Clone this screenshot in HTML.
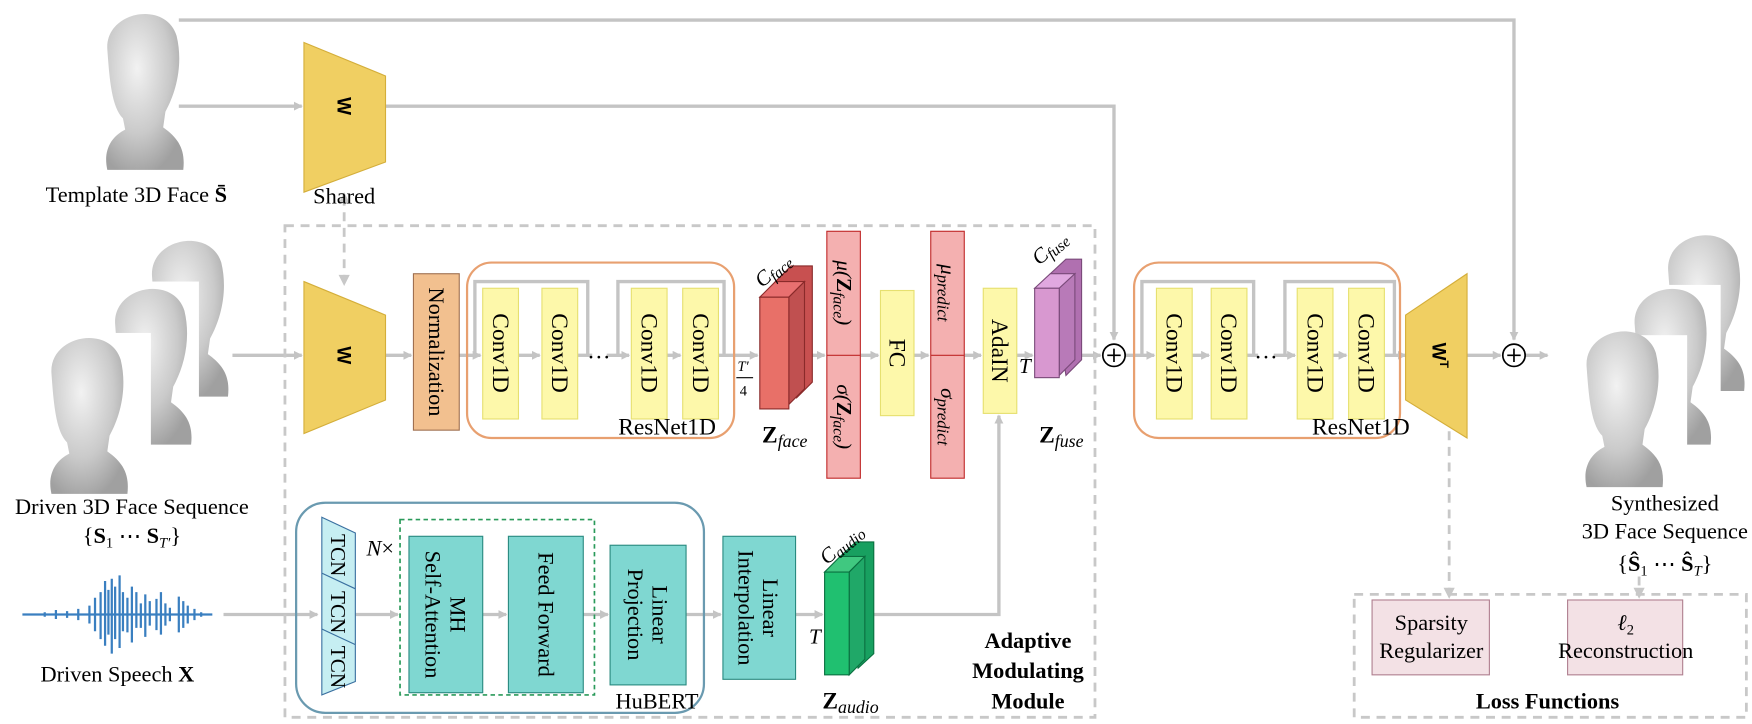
<!DOCTYPE html>
<html><head><meta charset="utf-8"><style>
html,body{margin:0;padding:0;background:#fff;}
svg{display:block;font-family:"Liberation Serif",serif;}
</style></head><body>
<svg width="1752" height="724" viewBox="0 0 1568 648" xmlns="http://www.w3.org/2000/svg" font-family="Liberation Serif, serif">
<defs>
<marker id="a" markerWidth="8" markerHeight="8" refX="7" refY="4" orient="auto" markerUnits="userSpaceOnUse"><path d="M0,0 L8,4 L0,8 z" fill="#c4c4c4"/></marker>
<radialGradient id="hg" cx="0.4" cy="0.35" r="0.7"><stop offset="0" stop-color="#f2f2f2"/><stop offset="0.6" stop-color="#cacaca"/><stop offset="1" stop-color="#a0a0a0"/></radialGradient>
<g id="head">
<path d="M18,42 C16,8 70,-2 80,30 C86,55 80,80 70,98 L68,112 C82,122 88,132 86,150 L18,150 C14,132 22,120 34,114 L32,104 C22,94 20,70 18,42 z" fill="url(#hg)"/>
</g>
</defs>
<g stroke="#c4c4c4" stroke-width="3" fill="none">
<path d="M160,18 H1355 V304" marker-end="url(#a)"/>
<path d="M160,95 H270" marker-end="url(#a)"/>
<path d="M345,95 H997 V304" marker-end="url(#a)"/>
<path d="M205,318 H270" marker-end="url(#a)"/>
<path d="M345,318 H368" marker-end="url(#a)"/>
<path d="M411,318 H430" marker-end="url(#a)"/>
<path d="M464,318 H483" marker-end="url(#a)"/>
<path d="M517,318 H530"/>
<path d="M543,318 H563" marker-end="url(#a)"/>
<path d="M597,318 H609" marker-end="url(#a)"/>
<path d="M643,318 H678" marker-end="url(#a)"/>
<path d="M720,318 H738" marker-end="url(#a)"/>
<path d="M770,318 H786" marker-end="url(#a)"/>
<path d="M818,318 H831" marker-end="url(#a)"/>
<path d="M863,318 H878" marker-end="url(#a)"/>
<path d="M910,318 H924" marker-end="url(#a)"/>
<path d="M967,318 H985" marker-end="url(#a)"/>
<path d="M1007,318 H1033" marker-end="url(#a)"/>
<path d="M1067,318 H1082" marker-end="url(#a)"/>
<path d="M1116,318 H1126"/>
<path d="M1140,318 H1159" marker-end="url(#a)"/>
<path d="M1193,318 H1205" marker-end="url(#a)"/>
<path d="M1239,318 H1258" marker-end="url(#a)"/>
<path d="M1313,318 H1343" marker-end="url(#a)"/>
<path d="M1365,318 H1385" marker-end="url(#a)"/>
<path d="M425,318 V252 H526 V318"/>
<path d="M553,318 V252 H648 V318"/>
<path d="M1022,318 V252 H1122 V318"/>
<path d="M1150,318 V252 H1248 V318"/>
<path d="M200,550 H284" marker-end="url(#a)"/>
<path d="M318,550 H356" marker-end="url(#a)"/>
<path d="M432,550 H453" marker-end="url(#a)"/>
<path d="M522,550 H544" marker-end="url(#a)"/>
<path d="M614,550 H645" marker-end="url(#a)"/>
<path d="M712,550 H736" marker-end="url(#a)"/>
<path d="M780,550 H894 V372" marker-end="url(#a)"/>
</g>
<g stroke="#c8c8c8" stroke-width="2.5" fill="none" stroke-dasharray="8,6">
<path d="M308,176 V248"/>
<path d="M1297,372 V528"/>
<path d="M1467,516 V528"/>
<rect x="255" y="202" width="725" height="440"/>
<rect x="1212" y="532" width="351" height="110"/>
</g>
<path d="M303,182 L308,172 L313,182 z M303,246 L308,256 L313,246 z M1292,526 L1297,536 L1302,526z M1462,526 L1467,536 L1472,526z" fill="#c8c8c8"/>

<use href="#head" x="78" y="2"/>
<rect x="122" y="208" width="86" height="128" fill="#fff"/>
<use href="#head" x="118" y="205"/>
<rect x="82" y="252" width="96" height="135" fill="#fff"/>
<use href="#head" x="85" y="248"/>
<rect x="25" y="298" width="110" height="140" fill="#fff"/>
<use href="#head" x="28" y="292"/>
<rect x="1475" y="205" width="90" height="110" fill="#fff"/>
<use href="#head" x="1475" y="200"/>
<rect x="1440" y="255" width="100" height="135" fill="#fff"/>
<use href="#head" x="1445" y="248"/>
<rect x="1400" y="300" width="110" height="130" fill="#fff"/>
<use href="#head" x="1402" y="286"/>

<path d="M272,38 L345,68 V145 L272,172 z" fill="#f0cf62" stroke="#d4ae3a"/>
<text x="308" y="95" font-family="Liberation Sans,sans-serif" font-weight="bold" font-size="17" text-anchor="middle" transform="rotate(90 308 95)" dy="6">W</text>
<path d="M272,252 L345,282 V358 L272,388 z" fill="#f0cf62" stroke="#d4ae3a"/>
<text x="308" y="318" font-family="Liberation Sans,sans-serif" font-weight="bold" font-size="17" text-anchor="middle" transform="rotate(90 308 318)" dy="6">W</text>
<path d="M1258,282 L1313,245 V392 L1258,358 z" fill="#f0cf62" stroke="#d4ae3a"/>
<text x="1288" y="318" font-family="Liberation Sans,sans-serif" font-weight="bold" font-size="17" text-anchor="middle" transform="rotate(90 1288 318)" dy="6">W<tspan font-size="11" dy="-7">T</tspan></text>

<rect x="370" y="245" width="41" height="140" fill="#f2c08f" stroke="#a07050"/>
<text x="390" y="315" font-size="20" text-anchor="middle" transform="rotate(90 390 315)" dy="6">Normalization</text>

<rect x="418" y="235" width="239" height="157" rx="22" fill="none" stroke="#e8a070" stroke-width="2"/>
<rect x="1015" y="235" width="238" height="157" rx="22" fill="none" stroke="#e8a070" stroke-width="2"/>
<g fill="#fdf8aa" stroke="#e6e070">
<rect x="432" y="258" width="32" height="117"/><rect x="485" y="258" width="32" height="117"/>
<rect x="565" y="258" width="32" height="117"/><rect x="611" y="258" width="32" height="117"/>
<rect x="1035" y="258" width="32" height="117"/><rect x="1084" y="258" width="32" height="117"/>
<rect x="1161" y="258" width="32" height="117"/><rect x="1207" y="258" width="32" height="117"/>
<rect x="788" y="260" width="30" height="112"/><rect x="880" y="258" width="30" height="112"/>
</g>
<g font-size="21" text-anchor="middle">
<text x="448" y="316" transform="rotate(90 448 316)" dy="7">Conv1D</text>
<text x="501" y="316" transform="rotate(90 501 316)" dy="7">Conv1D</text>
<text x="581" y="316" transform="rotate(90 581 316)" dy="7">Conv1D</text>
<text x="627" y="316" transform="rotate(90 627 316)" dy="7">Conv1D</text>
<text x="1051" y="316" transform="rotate(90 1051 316)" dy="7">Conv1D</text>
<text x="1100" y="316" transform="rotate(90 1100 316)" dy="7">Conv1D</text>
<text x="1177" y="316" transform="rotate(90 1177 316)" dy="7">Conv1D</text>
<text x="1223" y="316" transform="rotate(90 1223 316)" dy="7">Conv1D</text>
<text x="803" y="316" transform="rotate(90 803 316)" dy="7">FC</text>
<text x="895" y="314" transform="rotate(90 895 314)" dy="7">AdaIN</text>
<text x="536" y="321">…</text><text x="1133" y="321">…</text>
<text x="597" y="389">ResNet1D</text><text x="1218" y="389">ResNet1D</text>
</g>

<g stroke="#8a2a2a" stroke-width="1">
<path d="M694,252 L708,238 L727,238 L727,342 L713,356 z" fill="#c85050"/>
<path d="M680,266 L694,252 L720,252 L706,266z" fill="#e87070"/>
<path d="M706,266 L720,252 V348 L706,362z" fill="#c05050"/>
<rect x="680" y="266" width="26" height="100" fill="#e87068"/>
</g>
<g stroke="#7a4a7a" stroke-width="1">
<path d="M940,245 L954,232 L968,232 L968,322 L954,336z" fill="#b070b0"/>
<path d="M926,258 L940,245 L962,245 L948,258z" fill="#e0a8e0"/>
<path d="M948,258 L962,245 V322 L948,336z" fill="#b87ab8"/>
<rect x="926" y="258" width="22" height="80" fill="#d898d0"/>
</g>
<g stroke="#0a7040" stroke-width="1">
<path d="M752,498 L766,485 L782,485 L782,585 L768,598z" fill="#18a060"/>
<path d="M738,512 L752,498 L774,498 L760,512z" fill="#40c880"/>
<path d="M760,512 L774,498 V590 L760,604z" fill="#20a868"/>
<rect x="738" y="512" width="22" height="92" fill="#20c070"/>
</g>

<rect x="740" y="207" width="30" height="221" fill="#f4b0b0" stroke="#c02828"/>
<line x1="740" y1="318" x2="770" y2="318" stroke="#c02828"/>
<rect x="833" y="207" width="30" height="221" fill="#f4b0b0" stroke="#c02828"/>
<line x1="833" y1="318" x2="863" y2="318" stroke="#c02828"/>
<g font-size="19" font-style="italic" text-anchor="middle">
<text x="755" y="262" transform="rotate(90 755 262)" dy="6">μ(<tspan font-weight="bold" font-style="normal">Z</tspan><tspan font-size="14" dy="3">face</tspan><tspan dy="-3">)</tspan></text>
<text x="755" y="373" transform="rotate(90 755 373)" dy="6">σ(<tspan font-weight="bold" font-style="normal">Z</tspan><tspan font-size="14" dy="3">face</tspan><tspan dy="-3">)</tspan></text>
<text x="848" y="262" transform="rotate(90 848 262)" dy="6">μ<tspan font-size="15" dy="3">predict</tspan></text>
<text x="848" y="373" transform="rotate(90 848 373)" dy="6">σ<tspan font-size="15" dy="3">predict</tspan></text>
</g>

<g font-size="19">
<text x="682" y="258" font-style="italic" transform="rotate(-40 682 258)">C<tspan font-size="14" dy="3">face</tspan></text>
<text x="930" y="238" font-style="italic" transform="rotate(-40 930 238)">C<tspan font-size="14" dy="3">fuse</tspan></text>
<text x="740" y="506" font-style="italic" transform="rotate(-40 740 506)">C<tspan font-size="14" dy="3">audio</tspan></text>
<text x="660" y="332" font-size="13" font-style="italic">T′</text>
<line x1="659" y1="338" x2="674" y2="338" stroke="#000"/>
<text x="662" y="354" font-size="13">4</text>
<text x="912" y="334" font-style="italic">T</text>
<text x="724" y="576" font-style="italic">T</text>
<text x="682" y="396" font-weight="bold" font-size="21">Z<tspan font-weight="normal" font-style="italic" font-size="16" dy="4">face</tspan></text>
<text x="930" y="396" font-weight="bold" font-size="21">Z<tspan font-weight="normal" font-style="italic" font-size="16" dy="4">fuse</tspan></text>
<text x="736" y="634" font-weight="bold" font-size="21">Z<tspan font-weight="normal" font-style="italic" font-size="16" dy="4">audio</tspan></text>
</g>

<g fill="#fff" stroke="#000" stroke-width="1.5">
<circle cx="997" cy="318" r="10"/><circle cx="1355" cy="318" r="10"/>
</g>
<path d="M991,318 H1003 M997,312 V324 M1349,318 H1361 M1355,312 V324" stroke="#000" stroke-width="1.5"/>

<rect x="265" y="450" width="365" height="188" rx="26" fill="none" stroke="#6a9ab0" stroke-width="2"/>
<path d="M288,463 L318,477 V610 L288,622z" fill="#c6eef2" stroke="#3a70a0"/>
<path d="M288,513 L318,527 M288,563 L318,577" stroke="#3a70a0"/>
<g font-size="19" text-anchor="middle">
<text x="302" y="497" transform="rotate(90 302 497)" dy="6">TCN</text>
<text x="302" y="548" transform="rotate(90 302 548)" dy="6">TCN</text>
<text x="302" y="597" transform="rotate(90 302 597)" dy="6">TCN</text>
</g>
<text x="328" y="497" font-size="20" font-style="italic">N<tspan font-style="normal">×</tspan></text>
<rect x="358" y="465" width="174" height="157" fill="none" stroke="#2a9a5a" stroke-width="1.5" stroke-dasharray="4,3"/>
<g fill="#7fd7d1" stroke="#2a8a80">
<rect x="366" y="480" width="66" height="140"/><rect x="455" y="480" width="67" height="140"/>
<rect x="546" y="488" width="68" height="125"/><rect x="647" y="480" width="65" height="128"/>
</g>
<g font-size="20" text-anchor="middle">
<text x="399" y="550" transform="rotate(90 399 550)"><tspan x="399" dy="-4">MH</tspan><tspan x="399" dy="22">Self-Attention</tspan></text>
<text x="488" y="550" transform="rotate(90 488 550)" dy="6">Feed Forward</text>
<text x="580" y="550" transform="rotate(90 580 550)"><tspan x="580" dy="-4">Linear</tspan><tspan x="580" dy="22">Projection</tspan></text>
<text x="679" y="544" transform="rotate(90 679 544)"><tspan x="679" dy="-4">Linear</tspan><tspan x="679" dy="22">Interpolation</tspan></text>
<text x="588" y="634">HuBERT</text>
</g>

<path d="M20,550 H40 M40,548 V552 M50,546 V554 M60,547 V553 M70,545 V555 M80,542 V558 M85,535 V565 M90,530 V572 M94,520 V578 M97,528 V568 M100,518 V585 M103,525 V572 M107,515 V580 M110,530 V565 M114,535 V566 M118,525 V575 M122,530 V562 M126,540 V562 M130,532 V570 M134,538 V560 M140,536 V564 M144,530 V568 M148,540 V560 M152,544 V556 M160,534 V566 M164,538 V562 M168,542 V558 M174,545 V555 M180,548 V552 M40,550 H190" stroke="#3a7fc0" stroke-width="2" fill="none"/>

<rect x="1228" y="537" width="105" height="67" fill="#f3e1e5" stroke="#b08090"/>
<rect x="1403" y="537" width="103" height="67" fill="#f3e1e5" stroke="#b08090"/>

<g font-size="20" text-anchor="middle">
<text x="122" y="181">Template 3D Face <tspan font-weight="bold">S̄</tspan></text>
<text x="308" y="182">Shared</text>
<text x="118" y="460">Driven 3D Face Sequence</text>
<text x="118" y="486">{<tspan font-weight="bold">S</tspan><tspan font-size="13" dy="4">1</tspan><tspan dy="-4"> ⋯ </tspan><tspan font-weight="bold">S</tspan><tspan font-size="13" font-style="italic" dy="4">T′</tspan><tspan dy="-4">}</tspan></text>
<text x="105" y="610">Driven Speech <tspan font-weight="bold">X</tspan></text>
<text x="1490" y="457">Synthesized</text>
<text x="1490" y="482">3D Face Sequence</text>
<text x="1490" y="511">{<tspan font-weight="bold">Ŝ</tspan><tspan font-size="13" dy="4">1</tspan><tspan dy="-4"> ⋯ </tspan><tspan font-weight="bold">Ŝ</tspan><tspan font-size="13" font-style="italic" dy="4">T</tspan><tspan dy="-4">}</tspan></text>
<text x="1281" y="564">Sparsity</text><text x="1281" y="589">Regularizer</text>
<text x="1455" y="564" font-style="italic">ℓ<tspan font-style="normal" font-size="13" dy="4">2</tspan></text><text x="1455" y="589">Reconstruction</text>
<g font-weight="bold" font-size="20">
<text x="1385" y="634">Loss Functions</text>
<text x="920" y="580">Adaptive</text><text x="920" y="607">Modulating</text><text x="920" y="634">Module</text>
</g>
</g>
</svg>
</body></html>
